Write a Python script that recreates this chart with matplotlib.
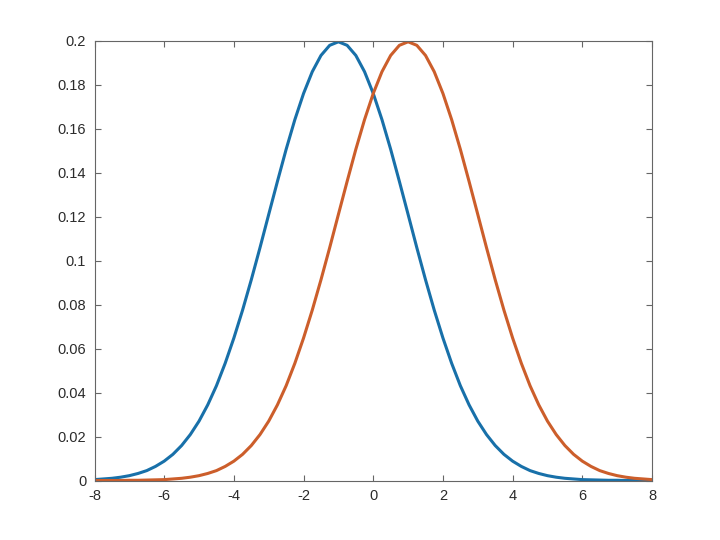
import matplotlib
matplotlib.use("Agg")
import matplotlib.pyplot as plt

x_values = [-8 + 0.25 * i for i in range(65)]

blue_values = [0.0004, 0.0007, 0.0010, 0.0015, 0.0022, 0.0032, 0.0045, 0.0064, 0.0088, 0.0119,
               0.0159, 0.0209, 0.0270, 0.0344, 0.0431, 0.0533, 0.0648, 0.0775, 0.0913, 0.1059,
               0.1210, 0.1360, 0.1506, 0.1641, 0.1760, 0.1859, 0.1933, 0.1979, 0.1995,
               0.1979, 0.1933, 0.1859, 0.1760, 0.1641, 0.1506, 0.1360, 0.1210, 0.1059, 0.0913,
               0.0775, 0.0648, 0.0533, 0.0431, 0.0344, 0.0270, 0.0209, 0.0159, 0.0119, 0.0088,
               0.0064, 0.0045, 0.0032, 0.0022, 0.0015, 0.0010, 0.0007, 0.0004, 0.0003, 0.0002,
               0.0001, 0.0001, 0.0, 0.0, 0.0, 0.0]

orange_values = [0.0, 0.0, 0.0, 0.0, 0.0001, 0.0001, 0.0002, 0.0003, 0.0004, 0.0007,
                 0.0010, 0.0015, 0.0022, 0.0032, 0.0045, 0.0064, 0.0088, 0.0119, 0.0159, 0.0209,
                 0.0270, 0.0344, 0.0431, 0.0533, 0.0648, 0.0775, 0.0913, 0.1059, 0.1210, 0.1360,
                 0.1506, 0.1641, 0.1760, 0.1859, 0.1933, 0.1979, 0.1995,
                 0.1979, 0.1933, 0.1859, 0.1760, 0.1641, 0.1506, 0.1360, 0.1210, 0.1059, 0.0913,
                 0.0775, 0.0648, 0.0533, 0.0431, 0.0344, 0.0270, 0.0209, 0.0159, 0.0119, 0.0088,
                 0.0064, 0.0045, 0.0032, 0.0022, 0.0015, 0.0010, 0.0007, 0.0004]

x_ticks = [-8, -6, -4, -2, 0, 2, 4, 6, 8]
y_ticks = [0, 0.02, 0.04, 0.06, 0.08, 0.1, 0.12, 0.14, 0.16, 0.18, 0.2]
y_tick_labels = ["0", "0.02", "0.04", "0.06", "0.08", "0.1", "0.12", "0.14", "0.16", "0.18", "0.2"]

plt.rcParams['font.family'] = ['Liberation Sans', 'DejaVu Sans']

fig = plt.figure(figsize=(7.2, 5.4), dpi=100)
ax = fig.add_axes([94.5 / 720, 1 - 480.5 / 540, (652 - 94.5) / 720, (480.5 - 40.7) / 540])

ax.plot(x_values, blue_values, color='#1870a9', linewidth=2.2, solid_capstyle='round')
ax.plot(x_values, orange_values, color='#cc5e2b', linewidth=2.2, solid_capstyle='round')

ax.set_xlim(-8, 8)
ax.set_ylim(0, 0.2)
ax.set_xticks(x_ticks)
ax.set_xticklabels([str(t) for t in x_ticks])
ax.set_yticks(y_ticks)
ax.set_yticklabels(y_tick_labels)

for s in ax.spines.values():
    s.set_color('#666666')
    s.set_linewidth(0.8)
ax.tick_params(direction='in', length=4, width=0.8, color='#666666', labelsize=10.5,
               labelcolor='#2b2b2b', top=True, right=True, pad=6)

fig.savefig("out.png", dpi=100, facecolor='white')
